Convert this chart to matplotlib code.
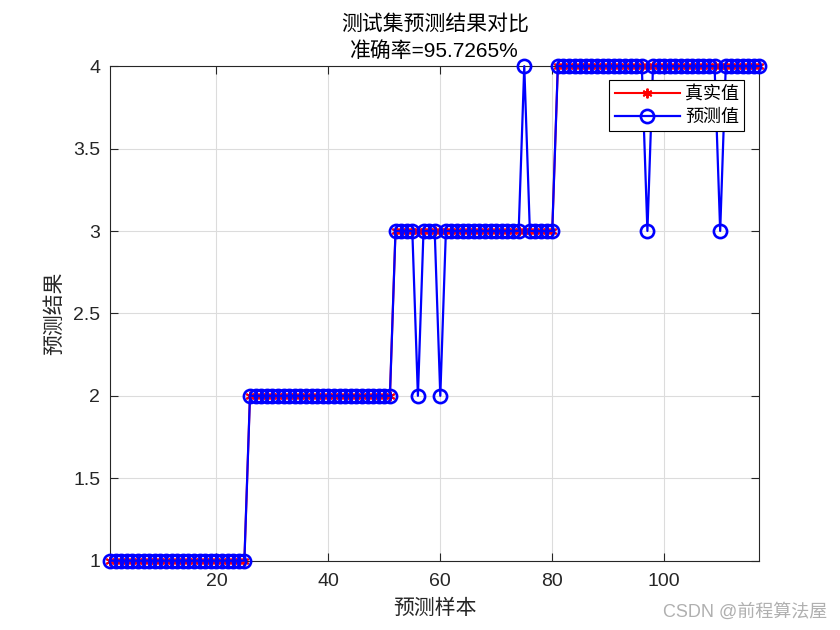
import numpy as np
import matplotlib
matplotlib.use('Agg')
import matplotlib.pyplot as plt

plt.rcParams['font.family'] = ['Liberation Sans', 'Noto Sans CJK SC', 'DejaVu Sans']

# true class of each test sample, given as (class, count) runs
true_runs = [(1, 25), (2, 26), (3, 29), (4, 37)]
# misclassified samples: (sample index, predicted class)
wrong = [(56, 2), (60, 2), (75, 4), (97, 3), (110, 3)]
accuracy = 95.7265

true_y = np.concatenate([[c] * n for c, n in true_runs]).astype(float)
pred_y = true_y.copy()
for idx, c in wrong:
    pred_y[idx - 1] = c
n = len(true_y)
xs = np.arange(1, n + 1)

fig = plt.figure(figsize=(8.4, 6.3), dpi=100)
ax = fig.add_axes([0.131, 0.11, 0.773, 0.785])

star = (6, 2, 0)  # MATLAB-like asterisk
ax.plot(xs, true_y, '-', marker=star, color='r', lw=1.5, ms=7, mew=1.4,
        label='真实值', clip_on=False, zorder=3)
ax.plot(xs, pred_y, '-o', color='b', lw=1.6, ms=9.5, mfc='none', mew=1.9,
        label='预测值', clip_on=False, zorder=4)

ax.set_xlim(1, n)
ax.set_ylim(1, 4)
ax.set_xticks([20, 40, 60, 80, 100])
ax.set_yticks([1, 1.5, 2, 2.5, 3, 3.5, 4])
ax.set_yticklabels(['1', '1.5', '2', '2.5', '3', '3.5', '4'])
ax.tick_params(direction='in', labelsize=14, length=6, top=True, right=True,
               labeltop=False, labelright=False, colors='#262626')
ax.tick_params(axis='x', pad=9)
ax.tick_params(axis='y', pad=7)
ax.grid(True, color='#dcdcdc', lw=0.8)
ax.set_axisbelow(True)
for s in ax.spines.values():
    s.set_color('#262626')
    s.set_linewidth(0.8)

cjk = ['Noto Sans CJK SC', 'DejaVu Sans']
ax.set_xlabel('预测样本', fontsize=15, family=cjk, color='#262626', labelpad=5)
ax.set_ylabel('预测结果', fontsize=15, family=cjk, color='#262626', labelpad=6)
ax.set_title('测试集预测结果对比\n准确率=%.4f%%' % accuracy, fontsize=15,
             family=['Liberation Sans', 'Noto Sans CJK SC'], pad=7,
             linespacing=1.45)

leg = ax.legend(loc='upper right', bbox_to_anchor=(0.977, 0.972),
                fancybox=False, edgecolor='k', framealpha=1, borderpad=0.3,
                labelspacing=0.25, handlelength=3.6, handletextpad=0.3,
                borderaxespad=0, prop={'family': cjk, 'size': 13})
leg.get_frame().set_linewidth(0.8)

fig.text(0.985, 0.015, 'CSDN @前程算法屋', ha='right', va='bottom', fontsize=13,
         color='#b0b0b0', family=['Liberation Sans', 'Noto Sans CJK SC'])

fig.savefig('out.png', dpi=100)
